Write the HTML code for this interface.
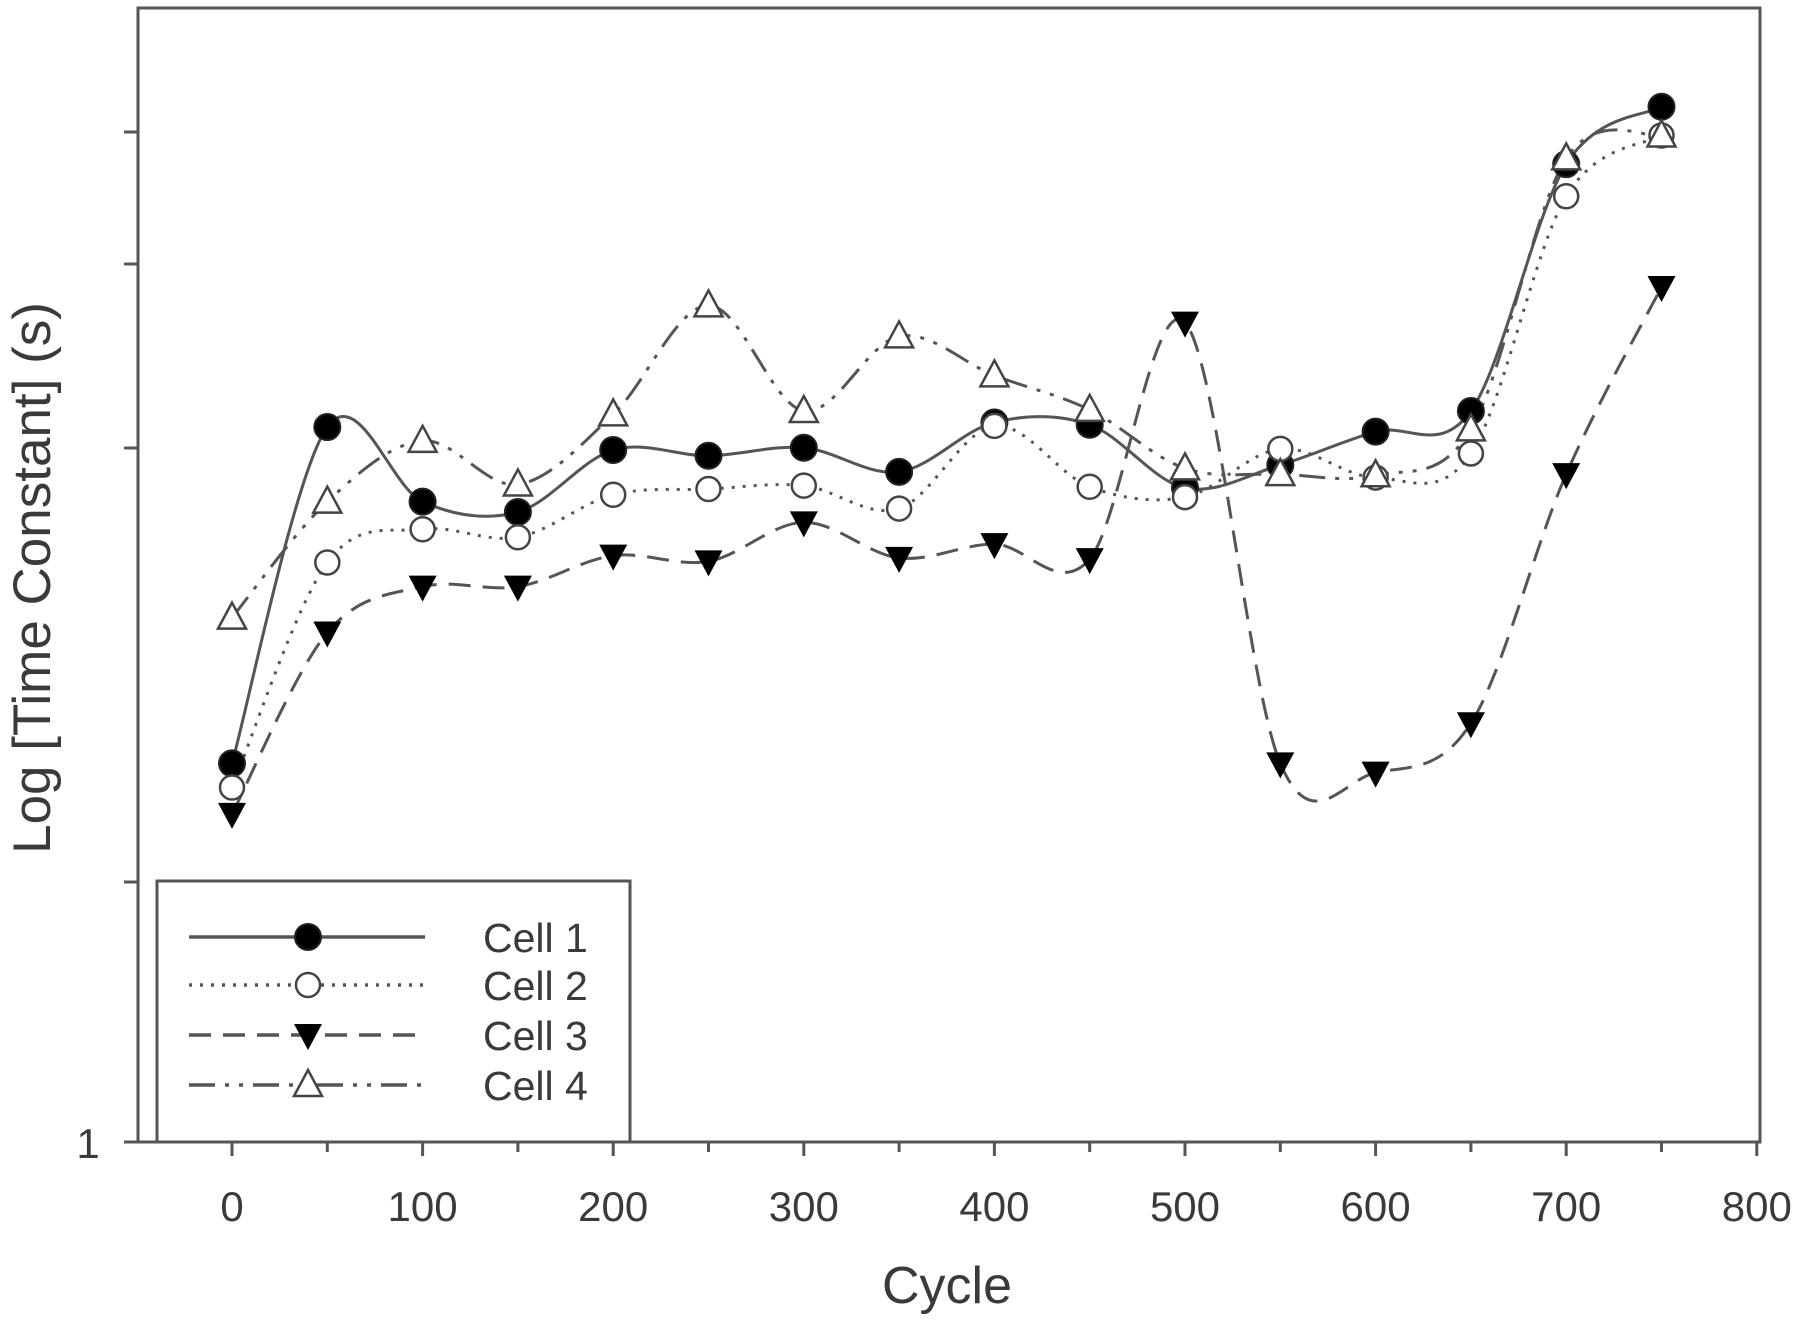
<!DOCTYPE html>
<html><head><meta charset="utf-8"><style>
html,body{margin:0;padding:0;background:#fff;}
svg{display:block;}
text{font-family:"Liberation Sans",sans-serif;fill:#3a3a3a;}
</style></head><body>
<svg id="s" width="1800" height="1324" viewBox="0 0 1800 1324" xmlns="http://www.w3.org/2000/svg">
<rect x="0" y="0" width="1800" height="1324" fill="#fff"/>
<g stroke="#555" stroke-width="3" fill="none">
<rect x="138" y="8" width="1622" height="1134"/>
<line x1="124" y1="1142" x2="138" y2="1142"/>
<line x1="124" y1="882" x2="138" y2="882"/>
<line x1="124" y1="448" x2="138" y2="448"/>
<line x1="124" y1="264" x2="138" y2="264"/>
<line x1="124" y1="132" x2="138" y2="132"/>
</g>
<g id="xt" stroke="#555" stroke-width="3"></g>
<g id="xl" font-size="42" text-anchor="middle"></g>
<text x="88" y="1158" font-size="42" text-anchor="middle">1</text>
<text x="947" y="1303" font-size="52" text-anchor="middle">Cycle</text>
<text transform="translate(50,578) rotate(-90)" font-size="53" text-anchor="middle">Log [Time Constant] (s)</text>
<g id="series"></g>
<rect x="157" y="881" width="473" height="261" fill="#fff" stroke="#555" stroke-width="3"/>
<g id="leg"></g>
</svg>
<script>
var NS="http://www.w3.org/2000/svg",k=1.148;
function el(t,a,p){var e=document.createElementNS(NS,t);for(var i in a)e.setAttribute(i,a[i]);p.appendChild(e);return e;}
function X(c){return 232+c*1.906;}
var xt=document.getElementById('xt'),xl=document.getElementById('xl');
for(var c=-50;c<=800;c+=50){if(c>-50)el('line',{x1:X(c),y1:1142,x2:X(c),y2:c%100==0?1156:1152},xt);
 if(c>=0&&c%100==0){var t=el('text',{x:X(c),y:1221},xl);t.textContent=c;}}
var D=[
[665,372,437,446,392,397,390,411,368,370,425,405,376,358,143,93],
[686,490,461,468,431,426,423,443,371,424,433,391,416,395,171,118],
[709,551,511,511,484,489,455,486,474,487,281,665,673,630,413,250],
[538,437,384,422,361,266,358,293,327,357,408,413,414,374,138,118]];
var dash=['', '3,8','22,12','26,10,4,10,4,10'];
var g=document.getElementById('series');
function path(P){var d='M'+P[0][0]+','+P[0][1];for(var i=0;i<P.length-1;i++){var p0=P[Math.max(i-1,0)],p1=P[i],p2=P[i+1],p3=P[Math.min(i+2,P.length-1)];
 d+=' C'+(p1[0]+(p2[0]-p0[0])/6)+','+(p1[1]+(p2[1]-p0[1])/6)+' '+(p2[0]-(p3[0]-p1[0])/6)+','+(p2[1]-(p3[1]-p1[1])/6)+' '+p2[0]+','+p2[1];}return d;}
function marker(s,x,y,p){
 if(s==0)el('circle',{cx:x,cy:y,r:13,fill:'#000',stroke:'#222','stroke-width':2},p);
 else if(s==1)el('circle',{cx:x,cy:y,r:12,fill:'#fff',stroke:'#444','stroke-width':2.5},p);
 else if(s==2)el('polygon',{points:(x-14)+','+(y-11)+' '+(x+14)+','+(y-11)+' '+x+','+(y+15),fill:'#000'},p);
 else el('polygon',{points:(x-14)+','+(y+11)+' '+(x+14)+','+(y+11)+' '+x+','+(y-15),fill:'#fff',stroke:'#444','stroke-width':2.5},p);}
for(var s=0;s<4;s++){var P=[];for(var i=0;i<16;i++)P.push([X(i*50),D[s][i]*k]);
 var a={d:path(P),fill:'none',stroke:'#555','stroke-width':3};if(dash[s])a['stroke-dasharray']=dash[s];el('path',a,g);}
for(var s=0;s<4;s++)for(var i=0;i<16;i++)marker(s,X(i*50),D[s][i]*k,g);
var lg=document.getElementById('leg'),ly=[937,985,1035,1085];
for(var s=0;s<4;s++){var a={x1:189,y1:ly[s],x2:425,y2:ly[s],stroke:'#555','stroke-width':3.5};if(dash[s])a['stroke-dasharray']=dash[s];el('line',a,lg);
 marker(s,308,ly[s],lg);var t=el('text',{x:483,y:ly[s]+15,'font-size':41},lg);t.textContent='Cell '+(s+1);}
</script>
</body></html>
